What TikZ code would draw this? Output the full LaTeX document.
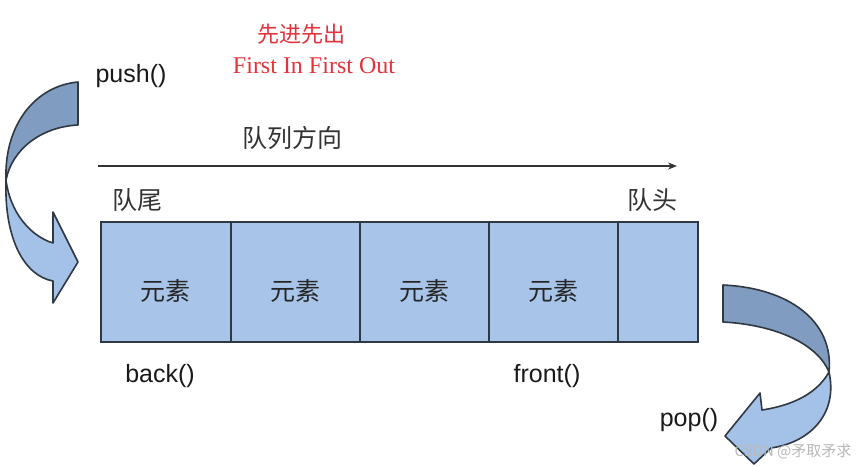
\documentclass[tikz,border=0pt]{standalone}
\usepackage{fontspec}
\setmainfont{Liberation Sans}
\newfontfamily\cjk{Noto Sans CJK SC}
\newfontfamily\timesrm{Liberation Serif}
\usetikzlibrary{arrows.meta}
\definecolor{cellfill}{RGB}{168,197,233}
\definecolor{ribbondark}{RGB}{128,156,192}
\definecolor{ribbonlight}{RGB}{164,194,232}
\definecolor{edgegray}{RGB}{48,56,66}
\definecolor{fifored}{RGB}{226,52,58}
\definecolor{wmgray}{RGB}{185,185,185}
\tikzset{
  cell/.style={draw=edgegray, line width=1.7pt, fill=cellfill, minimum height=120pt, inner sep=0pt, anchor=north west},
  celltext/.style={font=\cjk\fontsize{25}{27}\selectfont, text=black!85},
  cjklabel/.style={font=\cjk\fontsize{25}{27}\selectfont, text=black!80},
  fnlabel/.style={font=\fontsize{25}{27}\selectfont, text=black!90},
  ribbon/.style={draw=edgegray, line width=1.6pt, line join=round},
}
\begin{document}
\begin{tikzpicture}[x=1pt,y=-1pt]
\useasboundingbox (0,0) rectangle (862,466);
\fill[white] (0,0) rectangle (862,466);

% title
\node[font=\cjk\fontsize{22}{24}\selectfont, text=fifored] (t1) at (301,34) {先进先出};
\node[font=\timesrm\fontsize{24}{26}\selectfont, text=fifored] (t2) at (314,66) {First In First Out};

% direction arrow
\node[cjklabel] (dir) at (292,138) {队列方向};
\coordinate (dirA) at (98,166);
\coordinate (dirB) at (677,166);
\draw[line width=1.8pt, draw=black!80, -{Stealth[length=9pt,width=7pt]}] (dirA) -- (dirB);
\node[cjklabel] (tail) at (137,200) {队尾};
\node[cjklabel] (head) at (652,200) {队头};

% cells
\node[cell, minimum width=130pt] (c1) at (100,221) {};
\node[cell, minimum width=129pt] (c2) at (230,221) {};
\node[cell, minimum width=129pt] (c3) at (359,221) {};
\node[cell, minimum width=129pt] (c4) at (488,221) {};
\node[cell, minimum width=80pt] (c5) at (617,221) {};
\node[celltext] at ([yshift=-9pt]c1.center) {元素};
\node[celltext] at ([yshift=-9pt]c2.center) {元素};
\node[celltext] at ([yshift=-9pt]c3.center) {元素};
\node[celltext] at ([yshift=-9pt]c4.center) {元素};

% function labels
\node[fnlabel] (push) at (131,76) {push()};
\node[fnlabel] (back) at (160,376) {back()};
\node[fnlabel] (front) at (547,376) {front()};
\node[fnlabel] (pop) at (689,420) {pop()};

% push ribbon arrow
\filldraw[ribbon, fill=ribbondark]
  (78,82) .. controls (35,86) and (4,125) .. (6,180)
  .. controls (12,150) and (40,127) .. (78,125) -- cycle;
\filldraw[ribbon, fill=ribbonlight]
  (6,180) .. controls (4,240) and (25,276) .. (53,281)
  -- (53,303) -- (78,262) -- (53,212) -- (53,243)
  .. controls (30,236) and (10,212) .. (6,180) -- cycle;

% pop ribbon arrow
\filldraw[ribbon, fill=ribbondark]
  (723,285) .. controls (790,288) and (834,322) .. (829,372)
  .. controls (818,345) and (778,325) .. (723,322) -- cycle;
\filldraw[ribbon, fill=ribbonlight]
  (829,372) .. controls (838,412) and (812,442) .. (771,448)
  -- (754,464) -- (725,436) -- (760,393) -- (762,410)
  .. controls (795,405) and (818,392) .. (829,372) -- cycle;

% watermark
\node[font=\cjk\fontsize{15}{17}\selectfont, text=wmgray] (wm) at (793,452) {CSDN @矛取矛求};
\end{tikzpicture}
\end{document}
